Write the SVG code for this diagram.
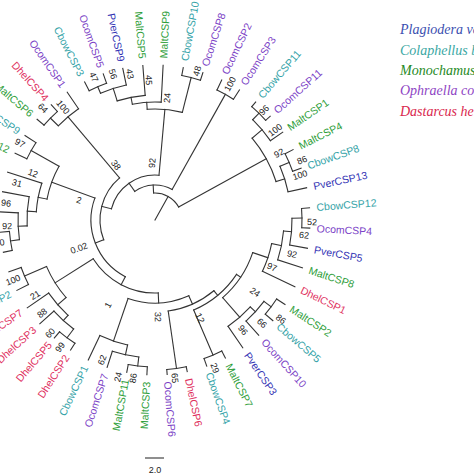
<svg xmlns="http://www.w3.org/2000/svg" width="474" height="474" viewBox="0 0 474 474">
<style>
.br path,.br circle{fill:none;stroke:#333;stroke-width:1.1;stroke-linecap:square}
.lb text{font-family:"Liberation Sans",Arial,sans-serif;font-size:10.5px}
.bs text{font-family:"Liberation Sans",Arial,sans-serif;font-size:9px;fill:#222;text-anchor:middle}
.lg text{font-family:"Liberation Serif","Times New Roman",serif;font-style:italic;font-size:14px}
.P{fill:#3535b5}.C{fill:#35a3a8}.M{fill:#2e9e3a}.O{fill:#7b3fc6}.D{fill:#e0305e}
.L{text-anchor:end}
</style>
<rect width="474" height="474" fill="#fff"/>
<g id="connectors" class="br" transform="translate(155,220)">
<circle r="27" pathLength="360" stroke-dasharray="64.13 999" transform="rotate(-93)"/>
<circle r="35" pathLength="360" stroke-dasharray="64.51 999" transform="rotate(-125.26)"/>
<circle r="45" pathLength="360" stroke-dasharray="80.73 999" transform="rotate(-165.62)"/>
<circle r="55" pathLength="360" stroke-dasharray="71 999" transform="rotate(158.88)"/>
<circle r="64" pathLength="360" stroke-dasharray="82.46 999" transform="rotate(117.65)"/>
<circle r="73" pathLength="360" stroke-dasharray="60.38 999" transform="rotate(87.46)"/>
<circle r="83" pathLength="360" stroke-dasharray="42.95 999" transform="rotate(65.99)"/>
<circle r="92" pathLength="360" stroke-dasharray="31.52 999" transform="rotate(50.23)"/>
<circle r="98" pathLength="360" stroke-dasharray="33.05 999" transform="rotate(33.7)"/>
<circle r="103" pathLength="360" stroke-dasharray="30.47 999" transform="rotate(18.47)"/>
<circle r="119" pathLength="360" stroke-dasharray="14.06 999" transform="rotate(11.44)"/>
<circle r="129" pathLength="360" stroke-dasharray="13.13 999" transform="rotate(4.875)"/>
<circle r="137" pathLength="360" stroke-dasharray="11.25 999" transform="rotate(-0.75)"/>
<circle r="147" pathLength="360" stroke-dasharray="7.5 999" transform="rotate(-4.5)"/>
<circle r="129" pathLength="360" stroke-dasharray="13.13 999" transform="rotate(42.375)"/>
<circle r="136" pathLength="360" stroke-dasharray="11.25 999" transform="rotate(36.75)"/>
<circle r="145" pathLength="360" stroke-dasharray="7.5 999" transform="rotate(33)"/>
<circle r="147" pathLength="360" stroke-dasharray="7.5 999" transform="rotate(63)"/>
<circle r="150" pathLength="360" stroke-dasharray="7.5 999" transform="rotate(78)"/>
<circle r="128" pathLength="360" stroke-dasharray="13.13 999" transform="rotate(102.375)"/>
<circle r="138" pathLength="360" stroke-dasharray="11.25 999" transform="rotate(96.75)"/>
<circle r="147" pathLength="360" stroke-dasharray="7.5 999" transform="rotate(93)"/>
<circle r="118" pathLength="360" stroke-dasharray="17.81 999" transform="rotate(138.94)"/>
<circle r="142" pathLength="360" stroke-dasharray="7.5 999" transform="rotate(153)"/>
<circle r="129" pathLength="360" stroke-dasharray="13.13 999" transform="rotate(132.375)"/>
<circle r="136" pathLength="360" stroke-dasharray="11.25 999" transform="rotate(126.75)"/>
<circle r="147" pathLength="360" stroke-dasharray="7.5 999" transform="rotate(123)"/>
<circle r="110" pathLength="360" stroke-dasharray="18.28 999" transform="rotate(190.97)"/>
<circle r="142" pathLength="360" stroke-dasharray="7.5 999" transform="rotate(205.5)"/>
<circle r="119" pathLength="360" stroke-dasharray="14.06 999" transform="rotate(183.94)"/>
<circle r="128" pathLength="360" stroke-dasharray="13.13 999" transform="rotate(177.375)"/>
<circle r="137" pathLength="360" stroke-dasharray="11.25 999" transform="rotate(171.75)"/>
<circle r="146" pathLength="360" stroke-dasharray="7.5 999" transform="rotate(168)"/>
<circle r="135" pathLength="360" stroke-dasharray="11.25 999" transform="rotate(224.25)"/>
<circle r="146" pathLength="360" stroke-dasharray="7.5 999" transform="rotate(220.5)"/>
<circle r="111" pathLength="360" stroke-dasharray="18.28 999" transform="rotate(-94.03)"/>
<circle r="118" pathLength="360" stroke-dasharray="14.06 999" transform="rotate(-101.06)"/>
<circle r="125" pathLength="360" stroke-dasharray="13.13 999" transform="rotate(-107.625)"/>
<circle r="138" pathLength="360" stroke-dasharray="11.25 999" transform="rotate(-113.25)"/>
<circle r="145" pathLength="360" stroke-dasharray="7.5 999" transform="rotate(-117)"/>
<circle r="147" pathLength="360" stroke-dasharray="7.5 999" transform="rotate(-79.5)"/>
<circle r="144" pathLength="360" stroke-dasharray="7.5 999" transform="rotate(-64.5)"/>
<circle r="127" pathLength="360" stroke-dasharray="22.5 999" transform="rotate(-40.125)"/>
<circle r="140" pathLength="360" stroke-dasharray="11.25 999" transform="rotate(-45.75)"/>
<circle r="149" pathLength="360" stroke-dasharray="7.5 999" transform="rotate(-49.5)"/>
<circle r="136" pathLength="360" stroke-dasharray="11.25 999" transform="rotate(-23.25)"/>
<circle r="146" pathLength="360" stroke-dasharray="7.5 999" transform="rotate(-27)"/>
<path d="M0 0H27" transform="rotate(-60.94)"/>
<path d="M27 0H35" transform="rotate(-93)"/>
<path d="M27 0H127" transform="rotate(-28.875)"/>
<path d="M35 0H45" transform="rotate(-125.26)"/>
<path d="M35 0H144" transform="rotate(-60.75)"/>
<path d="M45 0H55" transform="rotate(194.38)"/>
<path d="M45 0H111" transform="rotate(-84.89)"/>
<path d="M55 0H64" transform="rotate(158.88)"/>
<path d="M55 0H135" transform="rotate(229.875)"/>
<path d="M64 0H73" transform="rotate(117.65)"/>
<path d="M64 0H110" transform="rotate(200.11)"/>
<path d="M73 0H83" transform="rotate(87.46)"/>
<path d="M73 0H118" transform="rotate(147.84)"/>
<path d="M83 0H92" transform="rotate(65.99)"/>
<path d="M83 0H128" transform="rotate(108.94)"/>
<path d="M92 0H98" transform="rotate(50.23)"/>
<path d="M92 0H150" transform="rotate(81.75)"/>
<path d="M98 0H103" transform="rotate(33.7)"/>
<path d="M98 0H147" transform="rotate(66.75)"/>
<path d="M103 0H119" transform="rotate(18.47)"/>
<path d="M103 0H129" transform="rotate(48.94)"/>
<path d="M119 0H129" transform="rotate(11.44)"/>
<path d="M119 0H155" transform="rotate(25.5)"/>
<path d="M129 0H137" transform="rotate(4.875)"/>
<path d="M129 0H155" transform="rotate(18)"/>
<path d="M137 0H147" transform="rotate(-0.75)"/>
<path d="M137 0H155" transform="rotate(10.5)"/>
<path d="M147 0H155" transform="rotate(-4.5)"/>
<path d="M147 0H155" transform="rotate(3)"/>
<path d="M129 0H136" transform="rotate(42.375)"/>
<path d="M129 0H155" transform="rotate(55.5)"/>
<path d="M136 0H145" transform="rotate(36.75)"/>
<path d="M136 0H155" transform="rotate(48)"/>
<path d="M145 0H155" transform="rotate(33)"/>
<path d="M145 0H155" transform="rotate(40.5)"/>
<path d="M147 0H155" transform="rotate(63)"/>
<path d="M147 0H155" transform="rotate(70.5)"/>
<path d="M150 0H155" transform="rotate(78)"/>
<path d="M150 0H155" transform="rotate(85.5)"/>
<path d="M128 0H138" transform="rotate(102.375)"/>
<path d="M128 0H155" transform="rotate(115.5)"/>
<path d="M138 0H147" transform="rotate(96.75)"/>
<path d="M138 0H155" transform="rotate(108)"/>
<path d="M147 0H155" transform="rotate(93)"/>
<path d="M147 0H155" transform="rotate(100.5)"/>
<path d="M118 0H129" transform="rotate(138.94)"/>
<path d="M118 0H142" transform="rotate(156.75)"/>
<path d="M142 0H155" transform="rotate(153)"/>
<path d="M142 0H155" transform="rotate(160.5)"/>
<path d="M129 0H136" transform="rotate(132.375)"/>
<path d="M129 0H155" transform="rotate(145.5)"/>
<path d="M136 0H147" transform="rotate(126.75)"/>
<path d="M136 0H155" transform="rotate(138)"/>
<path d="M147 0H155" transform="rotate(123)"/>
<path d="M147 0H155" transform="rotate(130.5)"/>
<path d="M110 0H119" transform="rotate(190.97)"/>
<path d="M110 0H142" transform="rotate(209.25)"/>
<path d="M142 0H155" transform="rotate(205.5)"/>
<path d="M142 0H155" transform="rotate(213)"/>
<path d="M119 0H128" transform="rotate(183.94)"/>
<path d="M119 0H155" transform="rotate(198)"/>
<path d="M128 0H137" transform="rotate(177.375)"/>
<path d="M128 0H155" transform="rotate(190.5)"/>
<path d="M137 0H146" transform="rotate(171.75)"/>
<path d="M137 0H155" transform="rotate(183)"/>
<path d="M146 0H155" transform="rotate(168)"/>
<path d="M146 0H155" transform="rotate(175.5)"/>
<path d="M135 0H146" transform="rotate(224.25)"/>
<path d="M135 0H155" transform="rotate(235.5)"/>
<path d="M146 0H155" transform="rotate(220.5)"/>
<path d="M146 0H155" transform="rotate(228)"/>
<path d="M111 0H118" transform="rotate(-94.03)"/>
<path d="M111 0H147" transform="rotate(-75.75)"/>
<path d="M118 0H125" transform="rotate(-101.06)"/>
<path d="M118 0H155" transform="rotate(-87)"/>
<path d="M125 0H138" transform="rotate(-107.625)"/>
<path d="M125 0H155" transform="rotate(-94.5)"/>
<path d="M138 0H145" transform="rotate(-113.25)"/>
<path d="M138 0H155" transform="rotate(-102)"/>
<path d="M145 0H155" transform="rotate(-117)"/>
<path d="M145 0H155" transform="rotate(-109.5)"/>
<path d="M147 0H155" transform="rotate(-79.5)"/>
<path d="M147 0H155" transform="rotate(-72)"/>
<path d="M144 0H155" transform="rotate(-64.5)"/>
<path d="M144 0H155" transform="rotate(-57)"/>
<path d="M127 0H140" transform="rotate(-40.125)"/>
<path d="M127 0H136" transform="rotate(-17.625)"/>
<path d="M140 0H149" transform="rotate(-45.75)"/>
<path d="M140 0H155" transform="rotate(-34.5)"/>
<path d="M149 0H155" transform="rotate(-49.5)"/>
<path d="M149 0H155" transform="rotate(-42)"/>
<path d="M136 0H146" transform="rotate(-23.25)"/>
<path d="M136 0H155" transform="rotate(-12)"/>
<path d="M146 0H155" transform="rotate(-27)"/>
<path d="M146 0H155" transform="rotate(-19.5)"/>
</g>
<g class="lb" transform="translate(155,220)">
<g id="MaltCSP9"><text class="M" transform="rotate(-87) translate(162 0)" dy="0.35em">MaltCSP9</text></g>
<g id="CbowCSP10"><text class="C" transform="rotate(-79.5) translate(162 0)" dy="0.35em">CbowCSP10</text></g>
<g id="OcomCSP8"><text class="O" transform="rotate(-72) translate(162 0)" dy="0.35em">OcomCSP8</text></g>
<g id="OcomCSP2"><text class="O" transform="rotate(-64.5) translate(162 0)" dy="0.35em">OcomCSP2</text></g>
<g id="OcomCSP3"><text class="O" transform="rotate(-57) translate(162 0)" dy="0.35em">OcomCSP3</text></g>
<g id="CbowCSP11"><text class="C" transform="rotate(-49.5) translate(162 0)" dy="0.35em">CbowCSP11</text></g>
<g id="OcomCSP11"><text class="O" transform="rotate(-42) translate(162 0)" dy="0.35em">OcomCSP11</text></g>
<g id="MaltCSP1"><text class="M" transform="rotate(-34.5) translate(162 0)" dy="0.35em">MaltCSP1</text></g>
<g id="MaltCSP4"><text class="M" transform="rotate(-27) translate(162 0)" dy="0.35em">MaltCSP4</text></g>
<g id="CbowCSP8"><text class="C" transform="rotate(-19.5) translate(162 0)" dy="0.35em">CbowCSP8</text></g>
<g id="PverCSP13"><text class="P" transform="rotate(-12) translate(162 0)" dy="0.35em">PverCSP13</text></g>
<g id="CbowCSP12"><text class="C" transform="rotate(-4.5) translate(162 0)" dy="0.35em">CbowCSP12</text></g>
<g id="OcomCSP4"><text class="O" transform="rotate(3) translate(162 0)" dy="0.35em">OcomCSP4</text></g>
<g id="PverCSP5"><text class="P" transform="rotate(10.5) translate(162 0)" dy="0.35em">PverCSP5</text></g>
<g id="MaltCSP8"><text class="M" transform="rotate(18) translate(162 0)" dy="0.35em">MaltCSP8</text></g>
<g id="DhelCSP1"><text class="D" transform="rotate(25.5) translate(162 0)" dy="0.35em">DhelCSP1</text></g>
<g id="MaltCSP2"><text class="M" transform="rotate(33) translate(162 0)" dy="0.35em">MaltCSP2</text></g>
<g id="CbowCSP5"><text class="C" transform="rotate(40.5) translate(162 0)" dy="0.35em">CbowCSP5</text></g>
<g id="OcomCSP10"><text class="O" transform="rotate(48) translate(162 0)" dy="0.35em">OcomCSP10</text></g>
<g id="PverCSP3"><text class="P" transform="rotate(55.5) translate(162 0)" dy="0.35em">PverCSP3</text></g>
<g id="MaltCSP7"><text class="M" transform="rotate(63) translate(162 0)" dy="0.35em">MaltCSP7</text></g>
<g id="CbowCSP4"><text class="C" transform="rotate(70.5) translate(162 0)" dy="0.35em">CbowCSP4</text></g>
<g id="DhelCSP6"><text class="D" transform="rotate(78) translate(162 0)" dy="0.35em">DhelCSP6</text></g>
<g id="OcomCSP6"><text class="O" transform="rotate(85.5) translate(162 0)" dy="0.35em">OcomCSP6</text></g>
<g id="MaltCSP3"><text class="M L" transform="rotate(93) translate(162 0) rotate(180)" dy="0.35em">MaltCSP3</text></g>
<g id="MaltCSP11"><text class="M L" transform="rotate(100.5) translate(162 0) rotate(180)" dy="0.35em">MaltCSP11</text></g>
<g id="OcomCSP7"><text class="O L" transform="rotate(108) translate(162 0) rotate(180)" dy="0.35em">OcomCSP7</text></g>
<g id="CbowCSP1"><text class="C L" transform="rotate(115.5) translate(162 0) rotate(180)" dy="0.35em">CbowCSP1</text></g>
<g id="DhelCSP2"><text class="D L" transform="rotate(123) translate(162 0) rotate(180)" dy="0.35em">DhelCSP2</text></g>
<g id="DhelCSP5"><text class="D L" transform="rotate(130.5) translate(162 0) rotate(180)" dy="0.35em">DhelCSP5</text></g>
<g id="DhelCSP3"><text class="D L" transform="rotate(138) translate(162 0) rotate(180)" dy="0.35em">DhelCSP3</text></g>
<g id="DhelCSP7"><text class="D L" transform="rotate(145.5) translate(162 0) rotate(180)" dy="0.35em">DhelCSP7</text></g>
<g id="CbowCSP2"><text class="C L" transform="rotate(153) translate(162 0) rotate(180)" dy="0.35em">CbowCSP2</text></g>
<g id="MaltCSP12"><text class="M L" transform="rotate(205.5) translate(162 0) rotate(180)" dy="0.35em">MaltCSP12</text></g>
<g id="CbowCSP9"><text class="C L" transform="rotate(213) translate(162 0) rotate(180)" dy="0.35em">CbowCSP9</text></g>
<g id="MaltCSP6"><text class="M L" transform="rotate(220.5) translate(162 0) rotate(180)" dy="0.35em">MaltCSP6</text></g>
<g id="DhelCSP4"><text class="D L" transform="rotate(228) translate(162 0) rotate(180)" dy="0.35em">DhelCSP4</text></g>
<g id="OcomCSP1"><text class="O L" transform="rotate(235.5) translate(162 0) rotate(180)" dy="0.35em">OcomCSP1</text></g>
<g id="CbowCSP3"><text class="C L" transform="rotate(243) translate(162 0) rotate(180)" dy="0.35em">CbowCSP3</text></g>
<g id="OcomCSP5"><text class="O L" transform="rotate(250.5) translate(162 0) rotate(180)" dy="0.35em">OcomCSP5</text></g>
<g id="PverCSP9"><text class="P L" transform="rotate(258) translate(162 0) rotate(180)" dy="0.35em">PverCSP9</text></g>
<g id="MaltCSP5"><text class="M L" transform="rotate(265.5) translate(162 0) rotate(180)" dy="0.35em">MaltCSP5</text></g>
</g>
<g id="bootstrap" class="bs">
<text transform="translate(94 77) rotate(66.4)" dy="0.35em">47</text>
<text transform="translate(113 74) rotate(73.7)" dy="0.35em">56</text>
<text transform="translate(130 74) rotate(80.3)" dy="0.35em">43</text>
<text transform="translate(149 80) rotate(87.1)" dy="0.35em">45</text>
<text transform="translate(167 98) rotate(-84.4)" dy="0.35em">24</text>
<text transform="translate(197 71) rotate(-74.2)" dy="0.35em">48</text>
<text transform="translate(230 84) rotate(-62.3)" dy="0.35em">100</text>
<text transform="translate(152 163) rotate(-85)" dy="0.35em">92</text>
<text transform="translate(264 110) rotate(-45.5)" dy="0.35em">96</text>
<text transform="translate(275 130) rotate(-37.5)" dy="0.35em">100</text>
<text transform="translate(279 153) rotate(-28.2)" dy="0.35em">92</text>
<text transform="translate(302 160) rotate(-22.2)" dy="0.35em">86</text>
<text transform="translate(300 175) rotate(-17.2)" dy="0.35em">100</text>
<text transform="translate(312 222) rotate(0.7)" dy="0.35em">52</text>
<text transform="translate(304 235) rotate(5.7)" dy="0.35em">62</text>
<text transform="translate(292 254) rotate(13.4)" dy="0.35em">92</text>
<text transform="translate(272 267) rotate(21.9)" dy="0.35em">97</text>
<text transform="translate(255 292) rotate(35.8)" dy="0.35em">24</text>
<text transform="translate(281 319) rotate(38.2)" dy="0.35em">86</text>
<text transform="translate(262 323) rotate(43.1)" dy="0.35em">66</text>
<text transform="translate(243 330) rotate(51.3)" dy="0.35em">96</text>
<text transform="translate(200 318) rotate(65.3)" dy="0.35em">12</text>
<text transform="translate(215 368) rotate(67.9)" dy="0.35em">29</text>
<text transform="translate(175 378) rotate(82.8)" dy="0.35em">65</text>
<text transform="translate(158 317) rotate(88.2)" dy="0.35em">32</text>
<text transform="translate(133 378) rotate(-82.1)" dy="0.35em">86</text>
<text transform="translate(118 377) rotate(-76.7)" dy="0.35em">24</text>
<text transform="translate(102 360) rotate(-69.3)" dy="0.35em">62</text>
<text transform="translate(108 305) rotate(-61.1)" dy="0.35em">1</text>
<text transform="translate(60 347) rotate(-53.2)" dy="0.35em">99</text>
<text transform="translate(50 333) rotate(-47.1)" dy="0.35em">60</text>
<text transform="translate(42 313) rotate(-39.5)" dy="0.35em">88</text>
<text transform="translate(35 295) rotate(-32)" dy="0.35em">21</text>
<text transform="translate(13 280) rotate(-22.8)" dy="0.35em">100</text>
<text transform="translate(79 248) rotate(-20.2)" dy="0.35em">0.02</text>
<text transform="translate(-3 243) rotate(-8.3)" dy="0.35em">100</text>
<text transform="translate(7 226) rotate(-2.3)" dy="0.35em">92</text>
<text transform="translate(6 203) rotate(6.5)" dy="0.35em">96</text>
<text transform="translate(17 183) rotate(15)" dy="0.35em">31</text>
<text transform="translate(33 173) rotate(21.1)" dy="0.35em">12</text>
<text transform="translate(79 200) rotate(14.7)" dy="0.35em">2</text>
<text transform="translate(20 143) rotate(29.7)" dy="0.35em">97</text>
<text transform="translate(43 108) rotate(45)" dy="0.35em">64</text>
<text transform="translate(63 107) rotate(50.6)" dy="0.35em">100</text>
<text transform="translate(116 165) rotate(55.4)" dy="0.35em">38</text>
</g>
<g id="legend" class="lg">
<text x="400" y="34" fill="#3b50b0">Plagiodera versicolora</text>
<text x="400" y="54.6" fill="#3aa7a3">Colaphellus bowringi</text>
<text x="400" y="74.8" fill="#258a25">Monochamus alternatus</text>
<text x="400" y="95.3" fill="#8e45c4">Ophraella communa</text>
<text x="400" y="116.2" fill="#d9284e">Dastarcus helophoroides</text>
</g>
<g id="scalebar">
<path d="M145 458H164" stroke="#333" stroke-width="1.1" fill="none"/>
<text x="155" y="473" font-family="Liberation Sans,Arial,sans-serif" font-size="9px" text-anchor="middle" fill="#222">2.0</text>
</g>
</svg>
